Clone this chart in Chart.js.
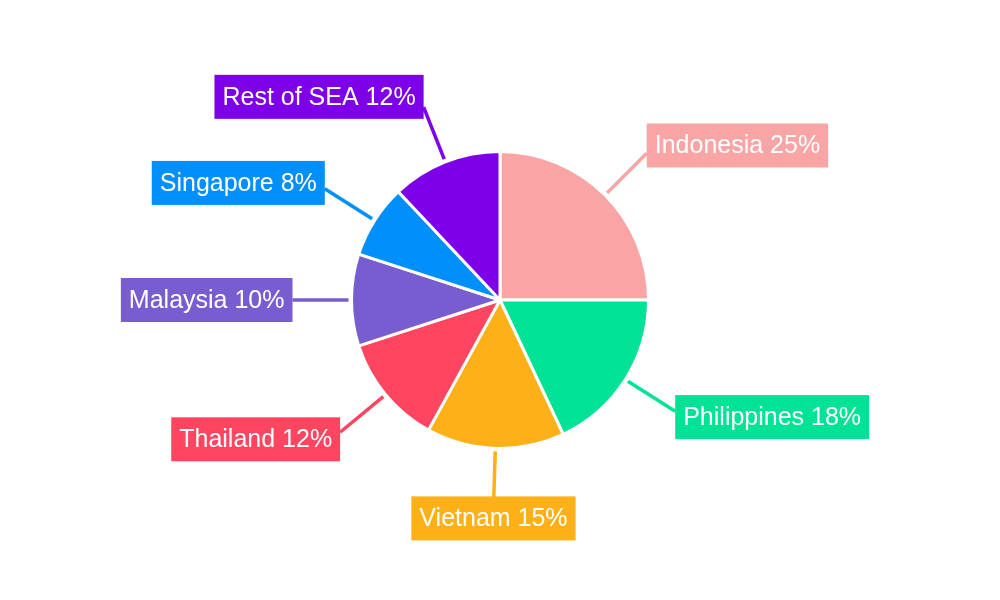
<!DOCTYPE html>
<html>
<head>
<meta charset="utf-8">
<script src="https://cdn.jsdelivr.net/npm/chart.js@4"></script>
<style>
  html, body { margin: 0; padding: 0; background: #fff; }
  #wrap { width: 1000px; height: 600px; }
</style>
</head>
<body>
<div id="wrap"><canvas id="myChart" width="1000" height="600"></canvas></div>
<script>
const countries = ['Indonesia', 'Philippines', 'Vietnam', 'Thailand', 'Malaysia', 'Singapore', 'Rest of SEA'];
const shares = [25, 18, 15, 12, 10, 8, 12];
const sliceColors = ['#f9a4a5', '#00e396', '#feb019', '#ff4560', '#775dd0', '#008ffb', '#7d00e8'];

// draws the boxed labels with leader lines outside the pie
const calloutLabels = {
  id: 'calloutLabels',
  afterDatasetsDraw(chart) {
    const ctx = chart.ctx;
    const meta = chart.getDatasetMeta(0);
    ctx.save();
    ctx.font = '25px "Liberation Sans", Arial, sans-serif';
    ctx.textBaseline = 'middle';
    meta.data.forEach(function (arc, i) {
      const p = arc.getProps(['x', 'y', 'startAngle', 'endAngle', 'outerRadius'], true);
      const a = (p.startAngle + p.endAngle) / 2;
      const dx = Math.cos(a), dy = Math.sin(a);
      const r1 = p.outerRadius + 3, r2 = p.outerRadius + 59;
      const ex = p.x + dx * r2, ey = p.y + dy * r2;

      ctx.strokeStyle = sliceColors[i];
      ctx.lineWidth = 3.5;
      ctx.beginPath();
      ctx.moveTo(p.x + dx * r1, p.y + dy * r1);
      ctx.lineTo(ex, ey);
      ctx.stroke();

      const text = countries[i] + ' ' + shares[i] + '%';
      const w = ctx.measureText(text).width + 16;
      const h = 44;
      let left;
      if (Math.abs(dx) < 0.2) left = ex - w / 2;
      else if (dx > 0) left = ex;
      else left = ex - w;
      const cy = ey + dy * 11;
      ctx.fillStyle = sliceColors[i];
      ctx.fillRect(left, cy - h / 2, w, h);
      ctx.fillStyle = '#fff';
      ctx.textAlign = 'left';
      ctx.fillText(text, left + 8, cy + 1);
    });
    ctx.restore();
  }
};

const ctx = document.getElementById('myChart');
new Chart(ctx, {
  type: 'pie',
  data: {
    labels: countries,
    datasets: [{
      data: shares,
      backgroundColor: sliceColors,
      borderColor: '#ffffff',
      borderWidth: 3
    }]
  },
  options: {
    responsive: false,
    animation: false,
    layout: { padding: { top: 150, bottom: 150, left: 350, right: 350 } },
    plugins: {
      legend: { display: false },
      tooltip: { enabled: false }
    }
  },
  plugins: [calloutLabels]
});
</script>
</body>
</html>
